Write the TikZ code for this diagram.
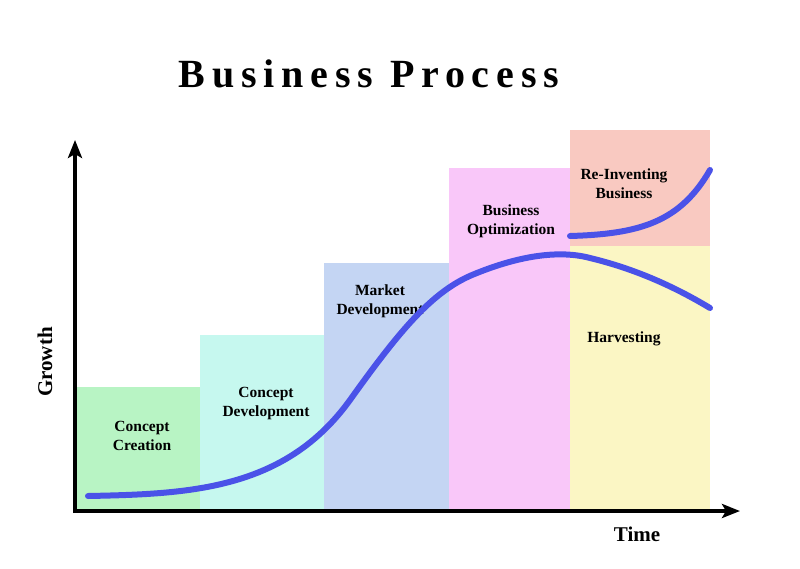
\documentclass[tikz,border=0pt]{standalone}
\usepackage{fontspec}
\setmainfont{Liberation Serif}
\newfontfamily\titlefont[LetterSpace=17]{Liberation Serif}
\usetikzlibrary{arrows.meta}
\definecolor{cgreen}{HTML}{B8F4C4}
\definecolor{ccyan}{HTML}{C6F8EF}
\definecolor{cblue}{HTML}{C4D5F3}
\definecolor{cpink}{HTML}{F9C7F9}
\definecolor{cyellow}{HTML}{FBF6C4}
\definecolor{csalmon}{HTML}{F9C9C1}
\definecolor{curve}{HTML}{4A52E8}
\tikzset{
  lbl/.style={font=\fontsize{15.5}{19}\selectfont\bfseries, align=center, text=black},
  axislbl/.style={font=\fontsize{21}{23}\selectfont\bfseries, text=black},
  axisline/.style={line width=3.5pt, -{Stealth[length=18pt,width=14pt,inset=4pt]}},
  growthcurve/.style={draw=curve, line width=6pt, line cap=round}
}
\begin{document}
\begin{tikzpicture}[x=1pt,y=-1pt]
\useasboundingbox (0,0) rectangle (800,568);
% boxes
\fill[cgreen] (77,387) rectangle (200,510);
\fill[ccyan] (200,335) rectangle (324,510);
\fill[cblue] (324,263) rectangle (449,510);
\fill[cpink] (449,168) rectangle (570,510);
\fill[cyellow] (570,246) rectangle (710,510);
\fill[csalmon] (570,130) rectangle (710,246);
% title
\node (title) at (369,74) {\titlefont\fontsize{40}{42}\selectfont\bfseries Business Process};
% labels
\node[lbl] (cc) at (142,436) {Concept\\Creation};
\node[lbl] (cd) at (266,404) {Concept\\Development};
\node[lbl] (md) at (380,301) {Market\\Development};
\node[lbl] (bo) at (511,221) {Business\\Optimization};
\node[lbl] (rb) at (624,184) {Re-Inventing\\Business};
\node[lbl] (hv) at (624,339) {Harvesting};
% curves
\draw[growthcurve] (88,496) .. controls (190,494) and (285,490) .. (350,400)
  .. controls (400,330) and (432,292) .. (472,275)
  .. controls (520,255) and (560,250) .. (590,258)
  .. controls (640,270) and (680,290) .. (710,308);
\draw[growthcurve] (570,236) .. controls (640,234) and (680,222) .. (710,170);
% axes
\coordinate (o) at (75,511);
\coordinate (ytip) at (75,140);
\coordinate (xtip) at (740,511);
\draw[axisline] (75,513) -- (ytip);
\draw[axisline] (73,511) -- (xtip);
\node[axislbl, rotate=90] (gr) at (45,362) {Growth};
\node[axislbl] (tm) at (637,534) {Time};
\end{tikzpicture}
\end{document}
